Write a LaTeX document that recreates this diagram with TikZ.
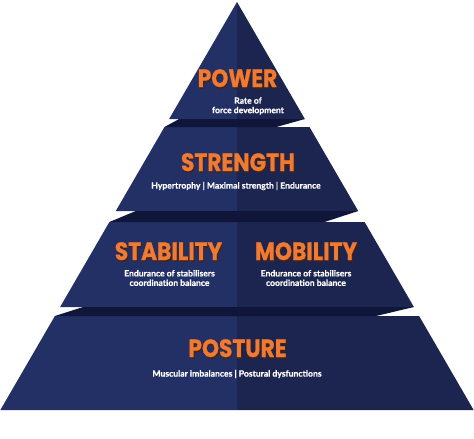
\documentclass[tikz,border=0pt]{standalone}
\usepackage{fontspec}
\usepackage{tikz}
\newfontfamily\titlefont[FakeStretch=0.87, FakeBold=0.8]{Poppins}
\newfontfamily\subfont[FakeBold=0.6]{Lato}
\definecolor{faceL}{HTML}{233066}
\definecolor{faceR}{HTML}{1C2450}
\definecolor{bandC}{HTML}{10163A}
\definecolor{orangeT}{HTML}{EE7A33}
\definecolor{shadowT}{HTML}{4A220C}

% one tier of the pyramid: top y, bottom y
\newcommand\tier[2]{%
  \fill[faceL] ({237-0.58*(#1-2)},#1) -- (237,#1) -- (237,#2) -- ({237-0.58*(#2-2)},#2) -- cycle;
  \fill[faceR] (237,#1) -- ({237+0.58*(#1-2)},#1) -- ({237+0.58*(#2-2)},#2) -- (237,#2) -- cycle;}
% dark strip between two tiers: upper y, lower y, left cut, right cut
\newcommand\band[4]{%
  \fill[bandC] ({237-0.58*(#1-2)+#3},#1) -- ({237+0.58*(#1-2)},#1)
    -- ({237+0.58*(#2-2)-#4},#2) -- ({237-0.58*(#2-2)},#2) -- cycle;}

\begin{document}
\begin{tikzpicture}[x=1pt, y=-1pt,
  ttl/.style={anchor=base, inner sep=0pt, text=orangeT,
    font=\titlefont\bfseries\fontsize{25}{25}\selectfont},
  ttlsh/.style={ttl, text=shadowT},
  sub/.style={inner sep=0pt, text=white, align=center,
    font=\subfont\bfseries\fontsize{8.6}{9.5}\selectfont}]

  \useasboundingbox (0,0) rectangle (474,439);

  % tiers
  \tier{2}{119}
  \tier{127}{211}
  \tier{222}{307}
  \tier{316}{410}

  \band{119}{127}{10}{33}
  \band{211}{222}{20}{40}
  \band{307}{316}{23}{43}

  % top
  \node[ttlsh] (power-sh) at (238.5,88.5) {POWER};
  \node[ttl] (power) at (237.5,87) {POWER};
  \node[sub] (power-sub) at (248,106) {Rate of\\force development};

  % second
  \node[ttlsh] (strength-sh) at (239,172.5) {STRENGTH};
  \node[ttl] (strength) at (238,171) {STRENGTH};
  \node[sub] (strength-sub) at (236,186) {Hypertrophy | Maximal strength | Endurance};

  % third
  \node[ttlsh] (stability-sh) at (169.5,261.5) {STABILITY};
  \node[ttl] (stability) at (168.5,260) {STABILITY};
  \node[sub] (stability-sub) at (169.5,278) {Endurance of stabilisers\\coordination balance};

  \node[ttlsh] (mobility-sh) at (307,261.5) {MOBILITY};
  \node[ttl] (mobility) at (306,260) {MOBILITY};
  \node[sub] (mobility-sub) at (306,278) {Endurance of stabilisers\\coordination balance};

  % base
  \node[ttlsh] (posture-sh) at (238.5,358.5) {POSTURE};
  \node[ttl] (posture) at (237.5,357) {POSTURE};
  \node[sub] (posture-sub) at (237,374) {Muscular imbalances | Postural dysfunctions};
\end{tikzpicture}
\end{document}
